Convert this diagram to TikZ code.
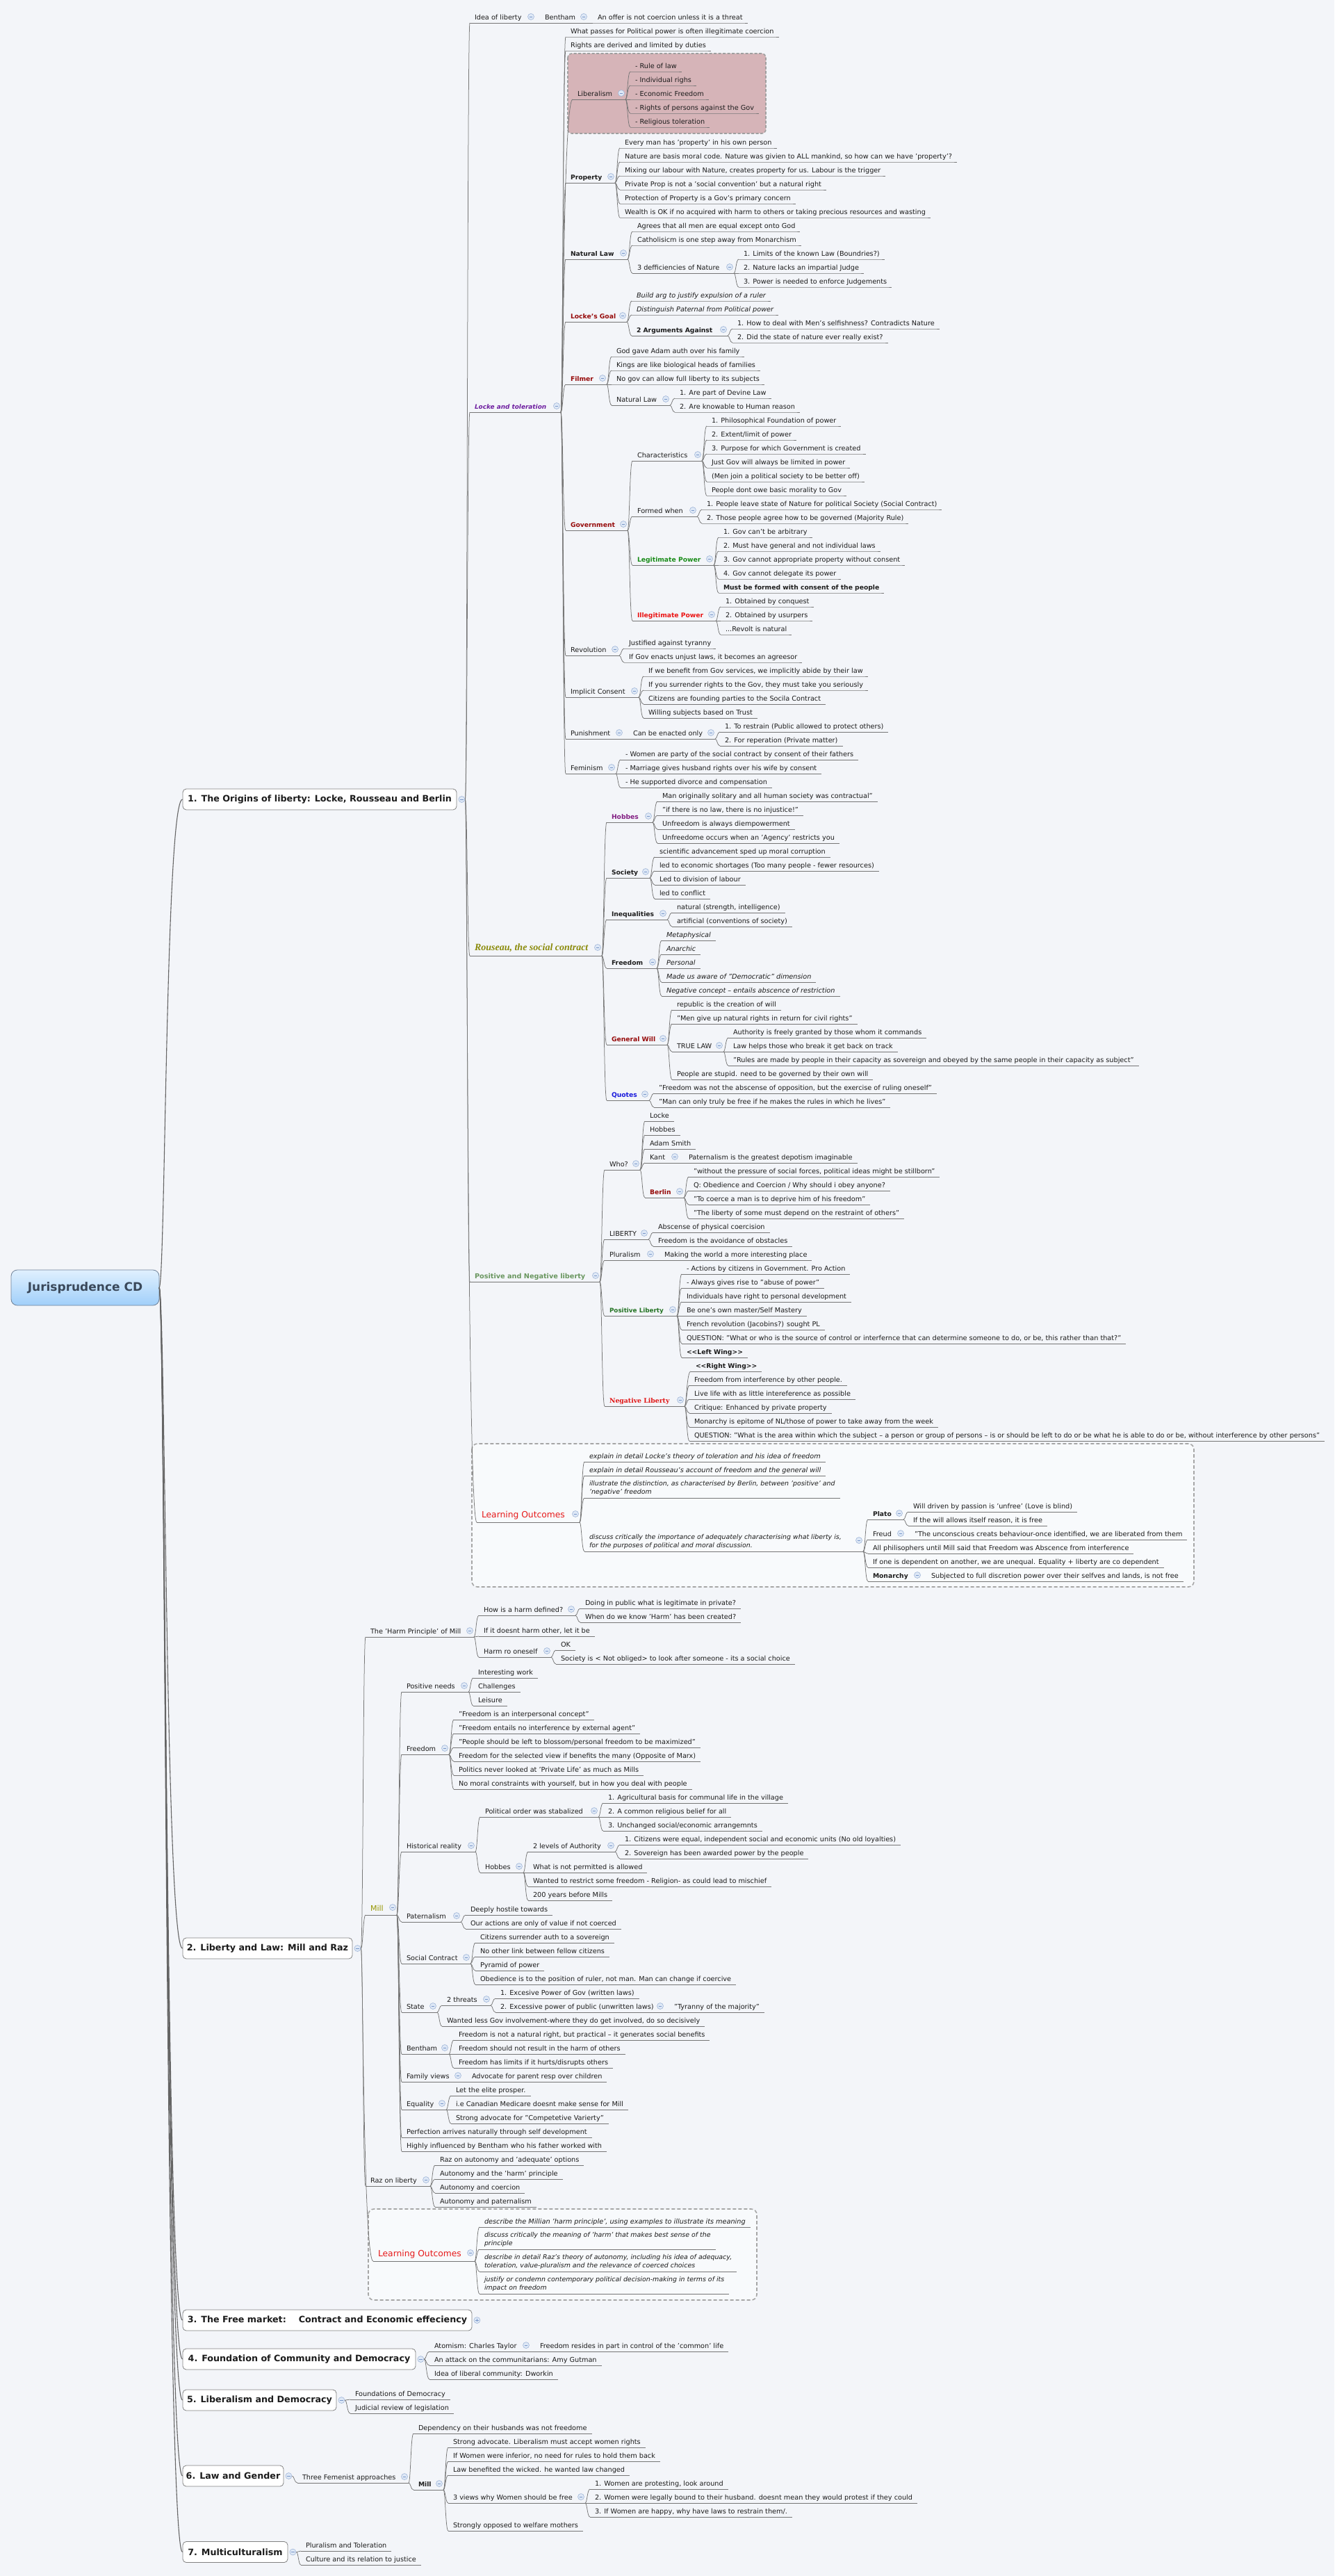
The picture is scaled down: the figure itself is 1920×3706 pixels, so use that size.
\documentclass[tikz,border=0pt]{standalone}
\usepackage{fontspec}
\setmainfont{DejaVu Sans}
\newfontfamily\mmSerif{Liberation Serif}
\newfontfamily\mmDSerif{DejaVu Serif}
\usetikzlibrary{calc}

\definecolor{bg}{RGB}{243,245,249}
\definecolor{txt}{RGB}{28,28,28}
\definecolor{lin}{RGB}{118,118,118}
\definecolor{btnf}{RGB}{222,232,246}
\definecolor{btnb}{RGB}{160,182,216}
\definecolor{btnl}{RGB}{120,150,200}
\definecolor{boxb}{RGB}{130,130,130}
\definecolor{rootT}{RGB}{224,240,254}
\definecolor{rootB}{RGB}{160,207,250}
\definecolor{rootD}{RGB}{110,128,150}
\definecolor{rootTx}{RGB}{58,72,90}
\definecolor{libfill}{RGB}{214,180,184}
\definecolor{cpur}{RGB}{110,30,160}
\definecolor{colv}{RGB}{138,138,10}
\definecolor{cpng}{RGB}{105,150,95}
\definecolor{chob}{RGB}{130,30,130}
\definecolor{cdred}{RGB}{150,10,10}
\definecolor{cleg}{RGB}{25,140,25}
\definecolor{cill}{RGB}{235,20,20}
\definecolor{cquo}{RGB}{25,25,220}
\definecolor{cpos}{RGB}{35,115,35}
\definecolor{cneg}{RGB}{225,20,20}
\definecolor{clo}{RGB}{230,25,25}
\definecolor{cmill}{RGB}{150,150,0}

\newcommand\mmN{\fontsize{9.7}{12}\selectfont}
\newcommand\mmB{\fontsize{9.2}{12}\selectfont\bfseries}
\newcommand\mmI{\fontsize{9.7}{12}\selectfont\itshape}
\newcommand\mmT{\fontsize{12.7}{15}\selectfont\bfseries}
\newcommand\two[2]{\begin{tabular}[b]{@{}l@{}}#1\\#2\end{tabular}}

\tikzset{
 tx/.style={inner sep=0pt,outer sep=0pt,anchor=base west,font=\mmN,text=txt},
 cB/.style={font=\mmB},
 cIt/.style={font=\mmI},
 cMl/.style={font=\fontsize{9.4}{12}\selectfont\itshape,yshift=1.5pt},
 cPur/.style={font=\fontsize{8.9}{11}\selectfont\bfseries\itshape,text=cpur},
 cOlv/.style={font=\fontsize{14}{16}\selectfont\mmSerif\bfseries\itshape,text=colv,yshift=3pt},
 cPng/.style={font=\fontsize{9.7}{12}\selectfont\bfseries,text=cpng},
 cHob/.style={font=\mmB,text=chob},
 cDr/.style={font=\mmB,text=cdred},
 cLeg/.style={font=\mmB,text=cleg},
 cIll/.style={font=\mmB,text=cill},
 cQuo/.style={font=\mmB,text=cquo},
 cPos/.style={font=\fontsize{8.8}{11}\selectfont\bfseries,text=cpos},
 cNeg/.style={font=\fontsize{9.3}{11}\selectfont\mmDSerif\bfseries,text=cneg},
 cLO/.style={font=\fontsize{12.3}{14}\selectfont,text=clo,yshift=2.5pt},
 cMill/.style={font=\fontsize{11}{13}\selectfont,text=cmill,yshift=1pt},
 ul/.style={draw=lin,line width=0.75pt},
 cn/.style={draw=lin,line width=0.75pt},
 cnT/.style={draw=lin!85!black,line width=1.1pt},
 btnc/.style={draw=btnb,fill=btnf,line width=0.6pt},
 btnm/.style={draw=btnl,line width=0.8pt},
 lbox/.style={draw=boxb,fill=white,rounded corners=5pt,line width=0.8pt,font=\mmT,text=txt,minimum height=30pt,inner sep=0pt},
 rootbox/.style={draw=rootD,top color=rootT,bottom color=rootB,rounded corners=9pt,line width=0.8pt,font=\fontsize{17}{20}\selectfont\bfseries,text=rootTx,minimum width=213pt,minimum height=51pt,inner sep=0pt},
 libbox/.style={draw=gray!75,fill=libfill,rounded corners=6pt,line width=1.6pt,dash pattern=on 4pt off 2.5pt},
 lobox/.style={draw=gray!70,fill=white!45!bg,rounded corners=8pt,line width=1.6pt,dash pattern=on 5pt off 3pt},
}

\def\bo{9}
\newcommand\btn[2]{\draw[btnc] (#1,#2) circle[radius=4.5pt]; \draw[btnm] (#1-2.4,#2) -- (#1+2.4,#2);}
\newcommand\nd[6][]{%
 \node[tx,#1] (#2) at (#4,#5-4.5) {#6};
 \coordinate (#2-s) at (#4-7,#5);
 \draw[ul] (#2-s) -- (#2.east |- #2-s) -- ++(7,0);
 \draw[cn] (#3-e) .. controls ($(#3-e)+(3,0)$) and ($(#3-e |- #2-s)+(3,0)$) .. (#2-s);}
\newcommand\pn[7][]{%
 \node[tx,#1] (#2) at (#4,#5-4.5) {#7};
 \coordinate (#2-s) at (#4-7,#5);
 \coordinate (#2-e) at (#6-14,#5);
 \draw[ul] (#2-s) -- (#2-e);
 \draw[cn] (#3-e) .. controls ($(#3-e)+(3,0)$) and ($(#3-e |- #2-s)+(3,0)$) .. (#2-s);
 \btn{#6-20}{#5-\bo}}
\newcommand\lvl[5]{%
 \node[lbox,minimum width=#4pt] (#1) at (#2,#3) {#5};
 \draw[cnT] (root-e) .. controls ($(root-e)+(9,0)$) and ($(root-e |- #1.west)+(9,0)$) .. (#1.west);
 \coordinate (#1-e) at ($(#1.east)+(12,0)$);
 \draw[btnc] ($(#1.east)+(7,0)$) circle[radius=4.5pt];
 \draw[btnm] ($(#1.east)+(4.6,0)$) -- ++(4.8,0);}

\begin{document}
\begin{tikzpicture}[x={(1pt,0pt)},y={(0pt,-1pt)}]
\fill[bg] (0,0) rectangle (1920,3706);
\useasboundingbox (0,0) rectangle (1920,3706);

% group boxes
\draw[libbox] (817,77) rectangle (1102,192);
\draw[lobox] (679,2077) rectangle (1718,2283);
\draw[lobox] (530,3178) rectangle (1089,3309);

% root
\node[rootbox] (root) at (122.5,1852.5) {Jurisprudence CD};
\coordinate (root-e) at (229,1852.5);

% ===== 1 =====
\lvl{n1}{460}{1150}{394}{1. The Origins of liberty: Locke, Rousseau and Berlin}
\pn{idea}{n1}{683}{33}{784}{Idea of liberty}
\pn{benth}{idea}{784}{33}{860}{Bentham}
\nd{offer}{benth}{860}{33}{An offer is not coercion unless it is a threat}

\pn[cPur]{locke}{n1}{683}{593}{821}{Locke and toleration}
\nd{lk1}{locke}{821}{53}{What passes for Political power is often illegitimate coercion}
\nd{lk2}{locke}{821}{73}{Rights are derived and limited by duties}
\pn{lib}{locke}{831}{143}{914}{Liberalism}
\nd{lib1}{lib}{914}{103}{- Rule of law}
\nd{lib2}{lib}{914}{123}{- Individual righs}
\nd{lib3}{lib}{914}{143}{- Economic Freedom}
\nd{lib4}{lib}{914}{163}{- Rights of persons against the Gov}
\nd{lib5}{lib}{914}{183}{- Religious toleration}
\pn[cB]{prop}{locke}{821}{263}{899}{Property}
\nd{pr1}{prop}{899}{213}{Every man has 'property' in his own person}
\nd{pr2}{prop}{899}{233}{Nature are basis moral code. Nature was givien to ALL mankind, so how can we have 'property'?}
\nd{pr3}{prop}{899}{253}{Mixing our labour with Nature, creates property for us. Labour is the trigger}
\nd{pr4}{prop}{899}{273}{Private Prop is not a 'social convention' but a natural right}
\nd{pr5}{prop}{899}{293}{Protection of Property is a Gov's primary concern}
\nd{pr6}{prop}{899}{313}{Wealth is OK if no acquired with harm to others or taking precious resources and wasting}
\pn[cB]{nat}{locke}{821}{373}{917}{Natural Law}
\nd{nat1}{nat}{917}{333}{Agrees that all men are equal except onto God}
\nd{nat2}{nat}{917}{353}{Catholisicm is one step away from Monarchism}
\pn{def}{nat}{917}{393}{1070}{3 defficiencies of Nature}
\nd{def1}{def}{1070}{373}{1. Limits of the known Law (Boundries?)}
\nd{def2}{def}{1070}{393}{2. Nature lacks an impartial Judge}
\nd{def3}{def}{1070}{413}{3. Power is needed to enforce Judgements}
\pn[cDr]{goal}{locke}{821}{463}{916}{Locke's Goal}
\nd[cIt]{gl1}{goal}{916}{433}{Build arg to justify expulsion of a ruler}
\nd[cIt]{gl2}{goal}{916}{453}{Distinguish Paternal from Political power}
\pn[cB]{arg}{goal}{916}{483}{1061}{2 Arguments Against}
\nd{arg1}{arg}{1061}{473}{1. How to deal with Men's selfishness? Contradicts Nature}
\nd{arg2}{arg}{1061}{493}{2. Did the state of nature ever really exist?}
\pn[cDr]{film}{locke}{821}{553}{887}{Filmer}
\nd{fm1}{film}{887}{513}{God gave Adam auth over his family}
\nd{fm2}{film}{887}{533}{Kings are like biological heads of families}
\nd{fm3}{film}{887}{553}{No gov can allow full liberty to its subjects}
\pn{fnat}{film}{887}{583}{978}{Natural Law}
\nd{fn1}{fnat}{978}{573}{1. Are part of Devine Law}
\nd{fn2}{fnat}{978}{593}{2. Are knowable to Human reason}
\pn[cDr]{gov}{locke}{821}{763}{917}{Government}
\pn{char}{gov}{917}{663}{1024}{Characteristics}
\nd{ch1}{char}{1024}{613}{1. Philosophical Foundation of power}
\nd{ch2}{char}{1024}{633}{2. Extent/limit of power}
\nd{ch3}{char}{1024}{653}{3. Purpose for which Government is created}
\nd{ch4}{char}{1024}{673}{Just Gov will always be limited in power}
\nd{ch5}{char}{1024}{693}{(Men join a political society to be better off)}
\nd{ch6}{char}{1024}{713}{People dont owe basic morality to Gov}
\pn{form}{gov}{917}{743}{1017}{Formed when}
\nd{fw1}{form}{1017}{733}{1. People leave state of Nature for political Society (Social Contract)}
\nd{fw2}{form}{1017}{753}{2. Those people agree how to be governed (Majority Rule)}
\pn[cLeg]{legit}{gov}{917}{813}{1041}{Legitimate Power}
\nd{lg1}{legit}{1041}{773}{1. Gov can't be arbitrary}
\nd{lg2}{legit}{1041}{793}{2. Must have general and not individual laws}
\nd{lg3}{legit}{1041}{813}{3. Gov cannot appropriate property without consent}
\nd{lg4}{legit}{1041}{833}{4. Gov cannot delegate its power}
\nd[cB]{lg5}{legit}{1041}{853}{Must be formed with consent of the people}
\pn[cIll]{illeg}{gov}{917}{893}{1044}{Illegitimate Power}
\nd{il1}{illeg}{1044}{873}{1. Obtained by conquest}
\nd{il2}{illeg}{1044}{893}{2. Obtained by usurpers}
\nd{il3}{illeg}{1044}{913}{...Revolt is natural}
\pn{rev}{locke}{821}{943}{905}{Revolution}
\nd{rv1}{rev}{905}{933}{Justified against tyranny}
\nd{rv2}{rev}{905}{953}{If Gov enacts unjust laws, it becomes an agreesor}
\pn{imp}{locke}{821}{1003}{933}{Implicit Consent}
\nd{im1}{imp}{933}{973}{If we benefit from Gov services, we implicitly abide by their law}
\nd{im2}{imp}{933}{993}{If you surrender rights to the Gov, they must take you seriously}
\nd{im3}{imp}{933}{1013}{Citizens are founding parties to the Socila Contract}
\nd{im4}{imp}{933}{1033}{Willing subjects based on Trust}
\pn{pun}{locke}{821}{1063}{911}{Punishment}
\pn{enact}{pun}{911}{1063}{1043}{Can be enacted only}
\nd{en1}{enact}{1043}{1053}{1. To restrain (Public allowed to protect others)}
\nd{en2}{enact}{1043}{1073}{2. For reperation (Private matter)}
\pn{fem}{locke}{821}{1113}{900}{Feminism}
\nd{fe1}{fem}{900}{1093}{- Women are party of the social contract by consent of their fathers}
\nd{fe2}{fem}{900}{1113}{- Marriage gives husband rights over his wife by consent}
\nd{fe3}{fem}{900}{1133}{- He supported divorce and compensation}

\def\bo{12}\pn[cOlv]{rous}{n1}{683}{1375}{880}{Rouseau, the social contract}\def\bo{9}
\pn[cHob]{hob}{rous}{880}{1183}{953}{Hobbes}
\nd{hb1}{hob}{953}{1153}{Man originally solitary and all human society was contractual"}
\nd{hb2}{hob}{953}{1173}{"if there is no law, there is no injustice!"}
\nd{hb3}{hob}{953}{1193}{Unfreedom is always diempowerment}
\nd{hb4}{hob}{953}{1213}{Unfreedome occurs when an 'Agency' restricts you}
\pn[cB]{soc}{rous}{880}{1263}{949}{Society}
\nd{so1}{soc}{949}{1233}{scientific advancement sped up moral corruption}
\nd{so2}{soc}{949}{1253}{led to economic shortages (Too many people - fewer resources)}
\nd{so3}{soc}{949}{1273}{Led to division of labour}
\nd{so4}{soc}{949}{1293}{led to conflict}
\pn[cB]{ineq}{rous}{880}{1323}{974}{Inequalities}
\nd{iq1}{ineq}{974}{1313}{natural (strength, intelligence)}
\nd{iq2}{ineq}{974}{1333}{artificial (conventions of society)}
\pn[cB]{rfree}{rous}{880}{1393}{959}{Freedom}
\nd[cIt]{rf1}{rfree}{959}{1353}{Metaphysical}
\nd[cIt]{rf2}{rfree}{959}{1373}{Anarchic}
\nd[cIt]{rf3}{rfree}{959}{1393}{Personal}
\nd[cIt]{rf4}{rfree}{959}{1413}{Made us aware of "Democratic" dimension}
\nd[cIt]{rf5}{rfree}{959}{1433}{Negative concept -- entails abscence of restriction}
\pn[cDr]{gw}{rous}{880}{1503}{974}{General Will}
\nd{gw1}{gw}{974}{1453}{republic is the creation of will}
\nd{gw2}{gw}{974}{1473}{"Men give up natural rights in return for civil rights"}
\pn{tl}{gw}{974}{1513}{1055}{TRUE LAW}
\nd{tl1}{tl}{1055}{1493}{Authority is freely granted by those whom it commands}
\nd{tl2}{tl}{1055}{1513}{Law helps those who break it get back on track}
\nd{tl3}{tl}{1055}{1533}{"Rules are made by people in their capacity as sovereign and obeyed by the same people in their capacity as subject"}
\nd{gw3}{gw}{974}{1553}{People are stupid. need to be governed by their own will}
\pn[cQuo]{quo}{rous}{880}{1583}{948}{Quotes}
\nd{qu1}{quo}{948}{1573}{"Freedom was not the abscense of opposition, but the exercise of ruling oneself"}
\nd{qu2}{quo}{948}{1593}{"Man can only truly be free if he makes the rules in which he lives"}

\pn[cPng]{pnl}{n1}{683}{1844}{877}{Positive and Negative liberty}
\pn{who}{pnl}{877}{1683}{935}{Who?}
\nd{wh1}{who}{935}{1613}{Locke}
\nd{wh2}{who}{935}{1633}{Hobbes}
\nd{wh3}{who}{935}{1653}{Adam Smith}
\pn{kant}{who}{935}{1673}{991}{Kant}
\nd{kt1}{kant}{991}{1673}{Paternalism is the greatest depotism imaginable}
\pn[cDr]{ber}{who}{935}{1723}{998}{Berlin}
\nd{be1}{ber}{998}{1693}{"without the pressure of social forces, political ideas might be stillborn"}
\nd{be2}{ber}{998}{1713}{Q: Obedience and Coercion / Why should i obey anyone?}
\nd{be3}{ber}{998}{1733}{"To coerce a man is to deprive him of his freedom"}
\nd{be4}{ber}{998}{1753}{"The liberty of some must depend on the restraint of others"}
\pn{libt}{pnl}{877}{1783}{947}{LIBERTY}
\nd{lt1}{libt}{947}{1773}{Abscense of physical coercision}
\nd{lt2}{libt}{947}{1793}{Freedom is the avoidance of obstacles}
\pn{plu}{pnl}{877}{1813}{956}{Pluralism}
\nd{pl1}{plu}{956}{1813}{Making the world a more interesting place}
\pn[cPos]{pos}{pnl}{877}{1893}{988}{Positive Liberty}
\nd{po1}{pos}{988}{1833}{- Actions by citizens in Government. Pro Action}
\nd{po2}{pos}{988}{1853}{- Always gives rise to "abuse of power"}
\nd{po3}{pos}{988}{1873}{Individuals have right to personal development}
\nd{po4}{pos}{988}{1893}{Be one's own master/Self Mastery}
\nd{po5}{pos}{988}{1913}{French revolution (Jacobins?) sought PL}
\nd{po6}{pos}{988}{1933}{QUESTION: "What or who is the source of control or interfernce that can determine someone to do, or be, this rather than that?"}
\nd[cB]{po7}{pos}{988}{1953}{<\kern0pt<Left Wing>\kern0pt>}
\pn[cNeg]{neg}{pnl}{877}{2023}{999}{Negative Liberty}
\nd[cB]{ne0}{neg}{1001}{1973}{<\kern0pt<Right Wing>\kern0pt>}
\nd{ne1}{neg}{999}{1993}{Freedom from interference by other people.}
\nd{ne2}{neg}{999}{2013}{Live life with as little intereference as possible}
\nd{ne3}{neg}{999}{2033}{Critique: Enhanced by private property}
\nd{ne4}{neg}{999}{2053}{Monarchy is epitome of NL/those of power to take away from the week}
\nd{ne5}{neg}{999}{2073}{QUESTION: "What is the area within which the subject -- a person or group of persons -- is or should be left to do or be what he is able to do or be, without interference by other persons"}

\def\bo{12}\pn[cLO]{lo1}{n1}{693}{2190}{848}{Learning Outcomes}\def\bo{9}
\nd[cIt]{lo1a}{lo1}{848}{2103}{explain in detail Locke's theory of toleration and his idea of freedom}
\nd[cIt]{lo1b}{lo1}{848}{2123}{explain in detail Rousseau's account of freedom and the general will}
\nd[cMl]{lo1c}{lo1}{848}{2155}{\two{illustrate the distinction, as characterised by Berlin, between 'positive' and}{'negative' freedom}}
\def\bo{16}\pn[cMl]{lo1d}{lo1}{848}{2232}{1256}{\two{discuss critically the importance of adequately characterising what liberty is,}{for the purposes of political and moral discussion.}}\def\bo{9}
\pn[cB]{plato}{lo1d}{1256}{2186}{1314}{Plato}
\nd{pt1}{plato}{1314}{2175}{Will driven by passion is 'unfree' (Love is blind)}
\nd{pt2}{plato}{1314}{2195}{If the will allows itself reason, it is free}
\pn{freud}{lo1d}{1256}{2215}{1316}{Freud}
\nd{fd1}{freud}{1316}{2215}{"The unconscious creats behaviour-once identified, we are liberated from them}
\nd{lo1e}{lo1d}{1256}{2235}{All philisophers until Mill said that Freedom was Abscence from interference}
\nd{lo1f}{lo1d}{1256}{2255}{If one is dependent on another, we are unequal. Equality + liberty are co dependent}
\pn[cB]{mon}{lo1d}{1256}{2275}{1340}{Monarchy}
\nd{mo1}{mon}{1340}{2275}{Subjected to full discretion power over their selfves and lands, is not free}

% ===== 2 =====
\lvl{n2}{385}{2803}{244}{2. Liberty and Law: Mill and Raz}
\pn{harm}{n2}{533}{2355}{696}{The 'Harm Principle' of Mill}
\pn{how}{harm}{696}{2324}{842}{How is a harm defined?}
\nd{hw1}{how}{842}{2314}{Doing in public what is legitimate in private?}
\nd{hw2}{how}{842}{2334}{When do we know 'Harm' has been created?}
\nd{hm2}{harm}{696}{2354}{If it doesnt harm other, let it be}
\pn{ro}{harm}{696}{2384}{807}{Harm ro oneself}
\nd{ok}{ro}{807}{2374}{OK}
\nd{sc0}{ro}{807}{2394}{Society is < Not obliged> to look after someone - its a social choice}

\def\bo{11}\pn[cMill]{mill}{n2}{533}{2755}{585}{Mill}\def\bo{9}
\pn{posn}{mill}{585}{2434}{688}{Positive needs}
\nd{pn1}{posn}{688}{2414}{Interesting work}
\nd{pn2}{posn}{688}{2434}{Challenges}
\nd{pn3}{posn}{688}{2454}{Leisure}
\pn{mfree}{mill}{585}{2524}{660}{Freedom}
\nd{mf1}{mfree}{660}{2474}{"Freedom is an interpersonal concept"}
\nd{mf2}{mfree}{660}{2494}{"Freedom entails no interference by external agent"}
\nd{mf3}{mfree}{660}{2514}{"People should be left to blossom/personal freedom to be maximized"}
\nd{mf4}{mfree}{660}{2534}{Freedom for the selected view if benefits the many (Opposite of Marx)}
\nd{mf5}{mfree}{660}{2554}{Politics never looked at 'Private Life' as much as Mills}
\nd{mf6}{mfree}{660}{2574}{No moral constraints with yourself, but in how you deal with people}
\pn{hist}{mill}{585}{2664}{698}{Historical reality}
\pn{pol}{hist}{698}{2614}{875}{Political order was stabalized}
\nd{po1b}{pol}{875}{2594}{1. Agricultural basis for communal life in the village}
\nd{po2b}{pol}{875}{2614}{2. A common religious belief for all}
\nd{po3b}{pol}{875}{2634}{3. Unchanged social/economic arrangemnts}
\pn{mhob}{hist}{698}{2694}{767}{Hobbes}
\pn{lev}{mhob}{767}{2664}{899}{2 levels of Authority}
\nd{lv1}{lev}{899}{2654}{1. Citizens were equal, independent social and economic units (No old loyalties)}
\nd{lv2}{lev}{899}{2674}{2. Sovereign has been awarded power by the people}
\nd{mh1}{mhob}{767}{2694}{What is not permitted is allowed}
\nd{mh2}{mhob}{767}{2714}{Wanted to restrict some freedom - Religion- as could lead to mischief}
\nd{mh3}{mhob}{767}{2734}{200 years before Mills}
\pn{pat}{mill}{585}{2765}{677}{Paternalism}
\nd{pa1}{pat}{677}{2755}{Deeply hostile towards}
\nd{pa2}{pat}{677}{2775}{Our actions are only of value if not coerced}
\pn{scon}{mill}{585}{2825}{691}{Social Contract}
\nd{sc1}{scon}{691}{2795}{Citizens surrender auth to a sovereign}
\nd{sc2}{scon}{691}{2815}{No other link between fellow citizens}
\nd{sc3}{scon}{691}{2835}{Pyramid of power}
\nd{sc4}{scon}{691}{2855}{Obedience is to the position of ruler, not man. Man can change if coercive}
\pn{state}{mill}{585}{2895}{643}{State}
\pn{thr}{state}{643}{2885}{720}{2 threats}
\nd{th1}{thr}{720}{2875}{1. Excesive Power of Gov (written laws)}
\pn{th2}{thr}{720}{2895}{970}{2. Excessive power of public (unwritten laws)}
\nd{ty}{th2}{970}{2895}{"Tyranny of the majority"}
\nd{st2}{state}{643}{2915}{Wanted less Gov involvement-where they do get involved, do so decisively}
\pn{ben}{mill}{585}{2955}{660}{Bentham}
\nd{bn1}{ben}{660}{2935}{Freedom is not a natural right, but practical -- it generates social benefits}
\nd{bn2}{ben}{660}{2955}{Freedom should not result in the harm of others}
\nd{bn3}{ben}{660}{2975}{Freedom has limits if it hurts/disrupts others}
\pn{fam}{mill}{585}{2995}{679}{Family views}
\nd{fa1}{fam}{679}{2995}{Advocate for parent resp over children}
\pn{eq}{mill}{585}{3035}{656}{Equality}
\nd{eq1}{eq}{656}{3015}{Let the elite prosper.}
\nd{eq2}{eq}{656}{3035}{i.e Canadian Medicare doesnt make sense for Mill}
\nd{eq3}{eq}{656}{3055}{Strong advocate for "Competetive Varierty"}
\nd{mp}{mill}{585}{3075}{Perfection arrives naturally through self development}
\nd{mhi}{mill}{585}{3095}{Highly influenced by Bentham who his father worked with}

\pn{raz}{n2}{533}{3145}{633}{Raz on liberty}
\nd{rz1}{raz}{633}{3115}{Raz on autonomy and 'adequate' options}
\nd{rz2}{raz}{633}{3135}{Autonomy and the 'harm' principle}
\nd{rz3}{raz}{633}{3155}{Autonomy and coercion}
\nd{rz4}{raz}{633}{3175}{Autonomy and paternalism}

\def\bo{12}\pn[cLO]{lo2}{n2}{544}{3253}{697}{Learning Outcomes}\def\bo{9}
\nd[cIt]{lo2a}{lo2}{697}{3204}{describe the Millian 'harm principle', using examples to illustrate its meaning}
\nd[cMl]{lo2b}{lo2}{697}{3236}{\two{discuss critically the meaning of 'harm' that makes best sense of the}{principle}}
\nd[cMl]{lo2c}{lo2}{697}{3268}{\two{describe in detail Raz's theory of autonomy, including his idea of adequacy,}{toleration, value-pluralism and the relevance of coerced choices}}
\nd[cMl]{lo2d}{lo2}{697}{3300}{\two{justify or condemn contemporary political decision-making in terms of its}{impact on freedom}}

% ===== 3 =====
\lvl{n3}{471}{3338}{416}{3. The Free market:\hspace{18pt}Contract and Economic effeciency}
\draw[btnm] ($(n3.east)+(7,-2.4)$) -- ++(0,4.8);

% ===== 4 =====
\lvl{n4}{430.5}{3394}{335}{4. Foundation of Community and Democracy}
\pn{atom}{n4}{625}{3383}{777}{Atomism: Charles Taylor}
\nd{at1}{atom}{777}{3383}{Freedom resides in part in control of the 'common' life}
\nd{gut}{n4}{625}{3403}{An attack on the communitarians: Amy Gutman}
\nd{dwor}{n4}{625}{3423}{Idea of liberal community: Dworkin}

% ===== 5 =====
\lvl{n5}{373.5}{3453}{221}{5. Liberalism and Democracy}
\nd{fod}{n5}{511}{3452}{Foundations of Democracy}
\nd{jud}{n5}{511}{3472}{Judicial review of legislation}

% ===== 6 =====
\lvl{n6}{335.5}{3562}{145}{6. Law and Gender}
\pn{three}{n6}{435}{3572}{602}{Three Femenist approaches}
\nd{dep}{three}{602}{3501}{Dependency on their husbands was not freedome}
\pn[cB]{gmill}{three}{602}{3582}{652}{Mill}
\nd{gm1}{gmill}{652}{3521}{Strong advocate. Liberalism must accept women rights}
\nd{gm2}{gmill}{652}{3541}{If Women were inferior, no need for rules to hold them back}
\nd{gm3}{gmill}{652}{3561}{Law benefited the wicked. he wanted law changed}
\pn{views}{gmill}{652}{3601}{856}{3 views why Women should be free}
\nd{vw1}{views}{856}{3581}{1. Women are protesting, look around}
\nd{vw2}{views}{856}{3601}{2. Women were legally bound to their husband. doesnt mean they would protest if they could}
\nd{vw3}{views}{856}{3621}{3. If Women are happy, why have laws to restrain them/.}
\nd{gm5}{gmill}{652}{3641}{Strongly opposed to welfare mothers}

% ===== 7 =====
\lvl{n7}{338.5}{3671.5}{151}{7. Multiculturalism}
\nd{plt}{n7}{440}{3670}{Pluralism and Toleration}
\nd{cul}{n7}{440}{3690}{Culture and its relation to justice}
\end{tikzpicture}
\end{document}
